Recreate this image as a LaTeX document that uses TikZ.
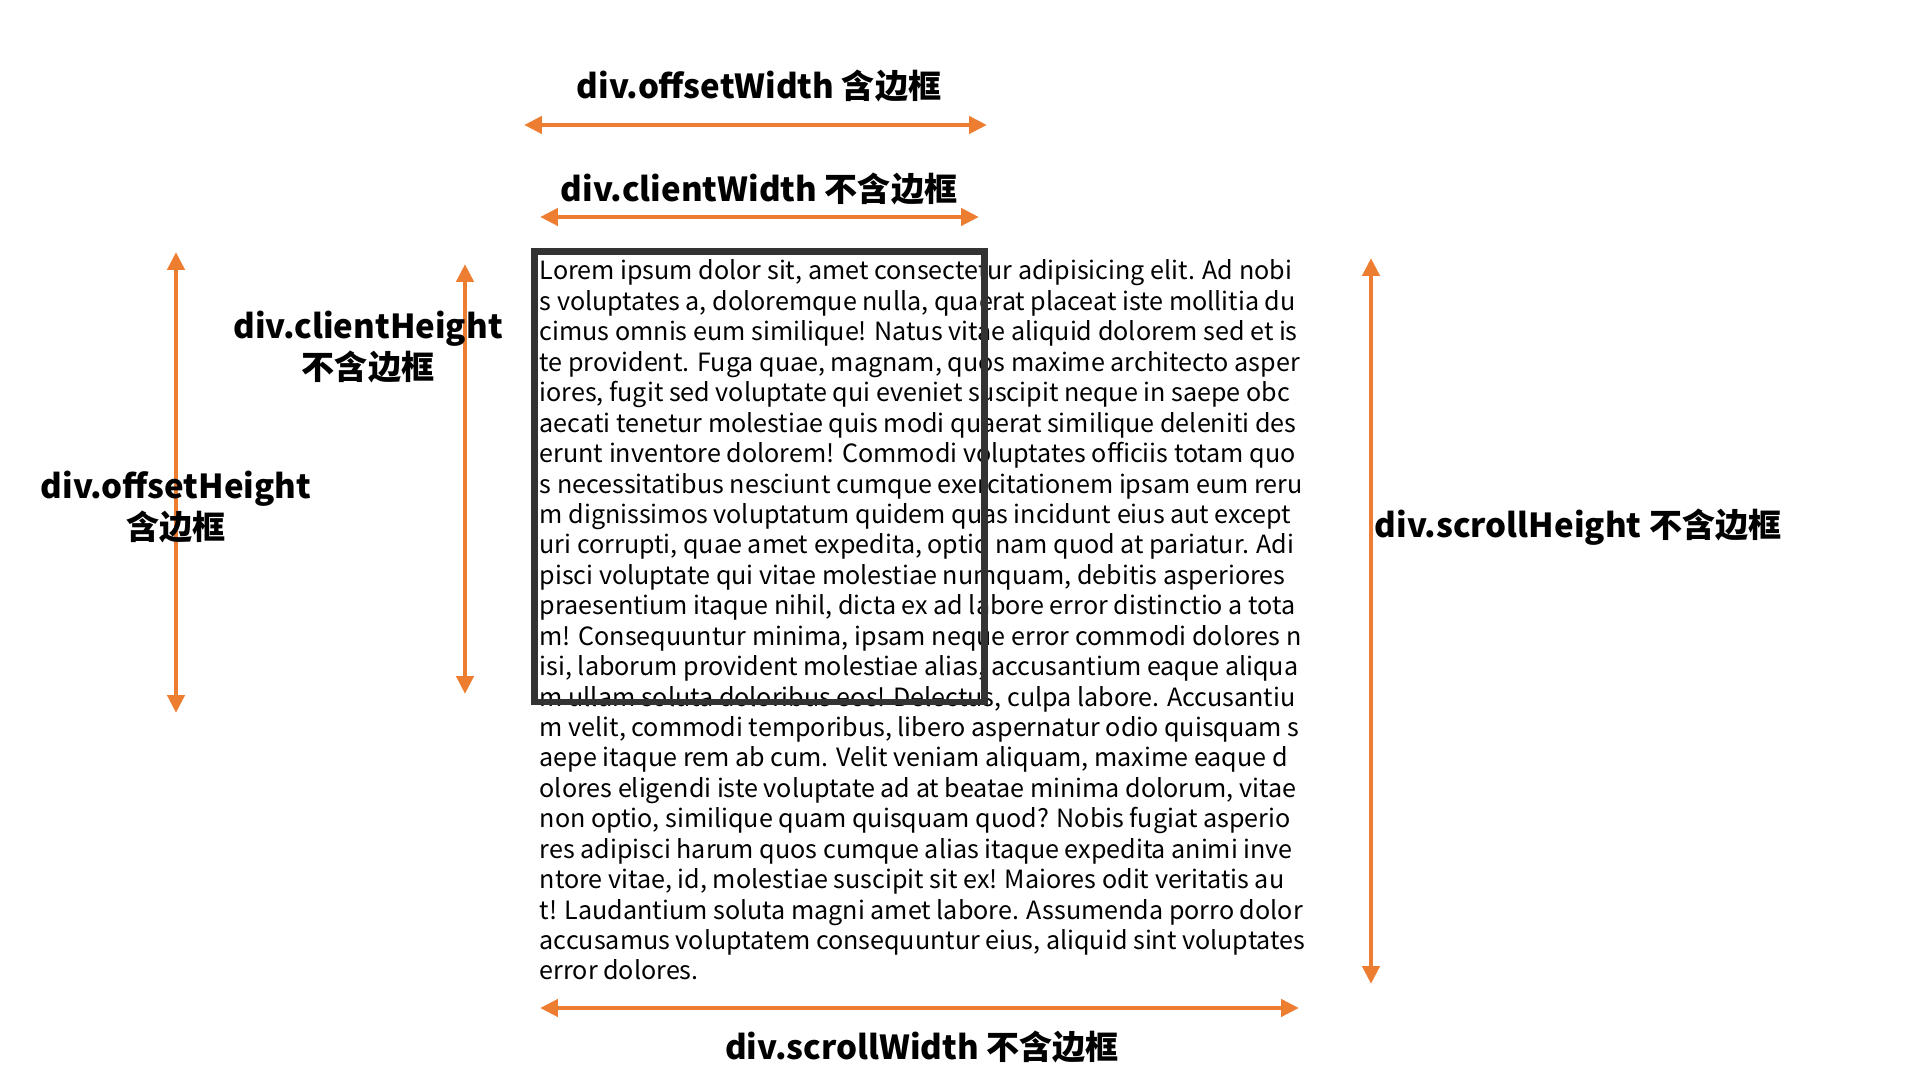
\documentclass[tikz,border=0pt]{standalone}
\usepackage{fontspec}
\setmainfont{Noto Sans CJK SC}
\usepackage{xcolor}
\usepackage{tikz}
\usetikzlibrary{arrows.meta,positioning}
\definecolor{dimorange}{HTML}{ED7D31}
\definecolor{boxgray}{HTML}{333333}
\tikzset{
    dimline/.style={draw=dimorange,line width=1.4pt,{Triangle[length=5.1pt,width=4.8pt]}-{Triangle[length=5.1pt,width=4.8pt]}},
    dimlabel/.style={font=\fontsize{9.4pt}{11.8pt}\selectfont\bfseries,align=center,inner sep=0pt},
    bodyline/.style={font=\fontsize{7.14pt}{8.6pt}\selectfont,anchor=base west,inner sep=0pt}
}
\begin{document}
\begin{tikzpicture}[x=0.01cm,y=-0.01cm]
    \useasboundingbox (0,0) rectangle (1920,1080);

    % Content of the div
    \foreach \txt [count=\i] in {
        {Lorem ipsum dolor sit, amet consectetur adipisicing elit. Ad nobi},
        {s voluptates a, doloremque nulla, quaerat placeat iste mollitia du},
        {cimus omnis eum similique! Natus vitae aliquid dolorem sed et is},
        {te provident. Fuga quae, magnam, quos maxime architecto asper},
        {iores, fugit sed voluptate qui eveniet suscipit neque in saepe obc},
        {aecati tenetur molestiae quis modi quaerat similique deleniti des},
        {erunt inventore dolorem! Commodi voluptates officiis totam quo},
        {s necessitatibus nesciunt cumque exercitationem ipsam eum reru},
        {m dignissimos voluptatum quidem quas incidunt eius aut except},
        {uri corrupti, quae amet expedita, optio nam quod at pariatur. Adi},
        {pisci voluptate qui vitae molestiae numquam, debitis asperiores},
        {praesentium itaque nihil, dicta ex ad labore error distinctio a tota},
        {m! Consequuntur minima, ipsam neque error commodi dolores n},
        {isi, laborum provident molestiae alias, accusantium eaque aliqua},
        {m ullam soluta doloribus eos! Delectus, culpa labore. Accusantiu},
        {m velit, commodi temporibus, libero aspernatur odio quisquam s},
        {aepe itaque rem ab cum. Velit veniam aliquam, maxime eaque d},
        {olores eligendi iste voluptate ad at beatae minima dolorum, vitae},
        {non optio, similique quam quisquam quod? Nobis fugiat asperio},
        {res adipisci harum quos cumque alias itaque expedita animi inve},
        {ntore vitae, id, molestiae suscipit sit ex! Maiores odit veritatis au},
        {t! Laudantium soluta magni amet labore. Assumenda porro dolor},
        {accusamus voluptatem consequuntur eius, aliquid sint voluptates},
        {error dolores.}}
        \node[bodyline] (line\i) at (539,{280+(\i-1)*30.43}) {\txt};

    % The div box
    \draw[boxgray,line width=1.98pt] (534.5,251.5) rectangle (984.5,702);

    % Width arrows
    \coordinate (ow-l) at (524,125);
    \coordinate (ow-r) at (987,125);
    \coordinate (cw-l) at (540,217);
    \coordinate (cw-r) at (979,217);
    \coordinate (sw-l) at (540,1008);
    \coordinate (sw-r) at (1299,1008);
    \draw[dimline] (ow-l) -- (ow-r);
    \draw[dimline] (cw-l) -- (cw-r);
    \draw[dimline] (sw-l) -- (sw-r);

    % Height arrows
    \coordinate (oh-t) at (176,252);
    \coordinate (oh-b) at (176,713);
    \coordinate (ch-t) at (465,264);
    \coordinate (ch-b) at (465,694);
    \coordinate (sh-t) at (1371,258);
    \coordinate (sh-b) at (1371,984);
    \draw[dimline] (oh-t) -- (oh-b);
    \draw[dimline] (ch-t) -- (ch-b);
    \draw[dimline] (sh-t) -- (sh-b);

    % Labels
    \node[dimlabel] (ow) at (759,86) {div.offsetWidth 含边框};
    \node[dimlabel] (cw) at (759,189) {div.clientWidth 不含边框};
    \node[dimlabel] (ch) at (368,347) {div.clientHeight\\不含边框};
    \node[dimlabel] (oh) at (176,507) {div.offsetHeight\\含边框};
    \node[dimlabel,anchor=west] (sh) at (1374,527) {div.scrollHeight 不含边框};
    \node[dimlabel] (sw) at (922,1047) {div.scrollWidth 不含边框};
\end{tikzpicture}
\end{document}
